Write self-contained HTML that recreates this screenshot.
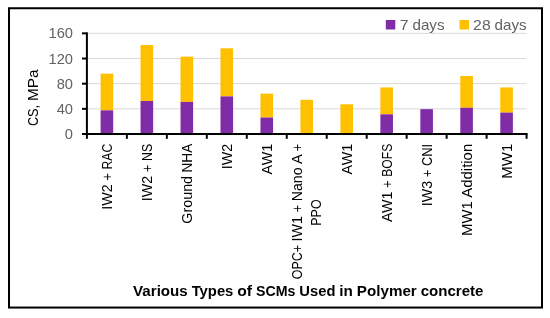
<!DOCTYPE html>
<html><head><meta charset="utf-8"><title>chart</title>
<style>
html,body{margin:0;padding:0;background:#fff;}
body{width:550px;height:318px;overflow:hidden;position:relative;font-family:"Liberation Sans",sans-serif;}
svg{position:absolute;left:0;top:0;display:block;}
text{font-family:"Liberation Sans",sans-serif;}
</style></head><body>
<svg width="550" height="318" viewBox="0 0 550 318">
<rect x="9" y="8.25" width="533" height="299.3" fill="#fff" stroke="#000" stroke-width="2"/>

<line x1="86.9" x2="526.57" y1="108.84" y2="108.84" stroke="#d9d9d9" stroke-width="1"/>
<line x1="86.9" x2="526.57" y1="83.68" y2="83.68" stroke="#d9d9d9" stroke-width="1"/>
<line x1="86.9" x2="526.57" y1="58.52" y2="58.52" stroke="#d9d9d9" stroke-width="1"/>
<line x1="86.9" x2="526.57" y1="33.36" y2="33.36" stroke="#d9d9d9" stroke-width="1"/>
<rect x="100.59" y="73.62" width="12.6" height="36.73" fill="#ffc000"/>
<rect x="100.59" y="110.35" width="12.6" height="23.65" fill="#802ca6"/>
<rect x="140.56" y="45.00" width="12.6" height="55.98" fill="#ffc000"/>
<rect x="140.56" y="100.98" width="12.6" height="33.02" fill="#802ca6"/>
<rect x="180.52" y="56.63" width="12.6" height="45.29" fill="#ffc000"/>
<rect x="180.52" y="101.92" width="12.6" height="32.08" fill="#802ca6"/>
<rect x="220.49" y="48.33" width="12.6" height="48.06" fill="#ffc000"/>
<rect x="220.49" y="96.39" width="12.6" height="37.61" fill="#802ca6"/>
<rect x="260.46" y="93.62" width="12.6" height="23.90" fill="#ffc000"/>
<rect x="260.46" y="117.52" width="12.6" height="16.48" fill="#802ca6"/>
<rect x="300.44" y="99.78" width="12.6" height="34.22" fill="#ffc000"/>
<rect x="340.41" y="104.31" width="12.6" height="29.69" fill="#ffc000"/>
<rect x="380.37" y="87.45" width="12.6" height="26.86" fill="#ffc000"/>
<rect x="380.37" y="114.31" width="12.6" height="19.69" fill="#802ca6"/>
<rect x="420.34" y="109.15" width="12.6" height="24.85" fill="#802ca6"/>
<rect x="460.31" y="76.01" width="12.6" height="31.76" fill="#ffc000"/>
<rect x="460.31" y="107.77" width="12.6" height="26.23" fill="#802ca6"/>
<rect x="500.29" y="87.45" width="12.6" height="25.16" fill="#ffc000"/>
<rect x="500.29" y="112.61" width="12.6" height="21.39" fill="#802ca6"/>
<line x1="86.9" x2="86.9" y1="32.36" y2="135.0" stroke="#000" stroke-width="2"/>
<line x1="85.9" x2="527.57" y1="134.0" y2="134.0" stroke="#000" stroke-width="2"/>
<line x1="82" x2="86.9" y1="134.00" y2="134.00" stroke="#000" stroke-width="2"/>
<line x1="82" x2="86.9" y1="108.84" y2="108.84" stroke="#000" stroke-width="2"/>
<line x1="82" x2="86.9" y1="83.68" y2="83.68" stroke="#000" stroke-width="2"/>
<line x1="82" x2="86.9" y1="58.52" y2="58.52" stroke="#000" stroke-width="2"/>
<line x1="82" x2="86.9" y1="33.36" y2="33.36" stroke="#000" stroke-width="2"/>
<line x1="86.90" x2="86.90" y1="134.0" y2="138.8" stroke="#000" stroke-width="2"/>
<line x1="126.87" x2="126.87" y1="134.0" y2="138.8" stroke="#000" stroke-width="2"/>
<line x1="166.84" x2="166.84" y1="134.0" y2="138.8" stroke="#000" stroke-width="2"/>
<line x1="206.81" x2="206.81" y1="134.0" y2="138.8" stroke="#000" stroke-width="2"/>
<line x1="246.78" x2="246.78" y1="134.0" y2="138.8" stroke="#000" stroke-width="2"/>
<line x1="286.75" x2="286.75" y1="134.0" y2="138.8" stroke="#000" stroke-width="2"/>
<line x1="326.72" x2="326.72" y1="134.0" y2="138.8" stroke="#000" stroke-width="2"/>
<line x1="366.69" x2="366.69" y1="134.0" y2="138.8" stroke="#000" stroke-width="2"/>
<line x1="406.66" x2="406.66" y1="134.0" y2="138.8" stroke="#000" stroke-width="2"/>
<line x1="446.63" x2="446.63" y1="134.0" y2="138.8" stroke="#000" stroke-width="2"/>
<line x1="486.60" x2="486.60" y1="134.0" y2="138.8" stroke="#000" stroke-width="2"/>
<line x1="526.57" x2="526.57" y1="134.0" y2="138.8" stroke="#000" stroke-width="2"/>
<text transform="translate(112.09,0) rotate(-90)" font-size="14" fill="#000"><tspan x="-209.73" y="0.00" textLength="25.55" lengthAdjust="spacingAndGlyphs">IW2</tspan> <tspan x="-180.67" y="0.00" textLength="7.72" lengthAdjust="spacingAndGlyphs">+</tspan> <tspan x="-169.45" y="0.00" textLength="25.65" lengthAdjust="spacingAndGlyphs">RAC</tspan></text>
<text transform="translate(152.06,0) rotate(-90)" font-size="14" fill="#000"><tspan x="-201.21" y="0.00" textLength="25.55" lengthAdjust="spacingAndGlyphs">IW2</tspan> <tspan x="-172.15" y="0.00" textLength="7.72" lengthAdjust="spacingAndGlyphs">+</tspan> <tspan x="-160.93" y="0.00" textLength="17.13" lengthAdjust="spacingAndGlyphs">NS</tspan></text>
<text transform="translate(192.02,0) rotate(-90)" font-size="14" fill="#000"><tspan x="-223.72" y="0.00" textLength="47.79" lengthAdjust="spacingAndGlyphs">Ground</tspan> <tspan x="-172.43" y="0.00" textLength="28.63" lengthAdjust="spacingAndGlyphs">NHA</tspan></text>
<text transform="translate(231.99,0) rotate(-90)" font-size="14" fill="#000"><tspan x="-169.35" y="0.00" textLength="25.55" lengthAdjust="spacingAndGlyphs">IW2</tspan></text>
<text transform="translate(271.96,0) rotate(-90)" font-size="14" fill="#000"><tspan x="-174.41" y="0.00" textLength="30.61" lengthAdjust="spacingAndGlyphs">AW1</tspan></text>
<text transform="translate(302.44,0) rotate(-90)" font-size="14" fill="#000"><tspan x="-279.28" y="0.00" textLength="34.25" lengthAdjust="spacingAndGlyphs">OPC+</tspan> <tspan x="-241.52" y="0.00" textLength="25.55" lengthAdjust="spacingAndGlyphs">IW1</tspan> <tspan x="-212.47" y="0.00" textLength="7.72" lengthAdjust="spacingAndGlyphs">+</tspan> <tspan x="-201.24" y="0.00" textLength="33.75" lengthAdjust="spacingAndGlyphs">Nano</tspan> <tspan x="-163.99" y="0.00" textLength="8.97" lengthAdjust="spacingAndGlyphs">A</tspan> <tspan x="-151.52" y="0.00" textLength="7.72" lengthAdjust="spacingAndGlyphs">+</tspan> <tspan x="-225.68" y="18.80" textLength="26.28" lengthAdjust="spacingAndGlyphs">PPO</tspan></text>
<text transform="translate(351.91,0) rotate(-90)" font-size="14" fill="#000"><tspan x="-174.41" y="0.00" textLength="30.61" lengthAdjust="spacingAndGlyphs">AW1</tspan></text>
<text transform="translate(391.87,0) rotate(-90)" font-size="14" fill="#000"><tspan x="-222.08" y="0.00" textLength="30.61" lengthAdjust="spacingAndGlyphs">AW1</tspan> <tspan x="-187.96" y="0.00" textLength="7.72" lengthAdjust="spacingAndGlyphs">+</tspan> <tspan x="-176.74" y="0.00" textLength="32.94" lengthAdjust="spacingAndGlyphs">BOFS</tspan></text>
<text transform="translate(431.84,0) rotate(-90)" font-size="14" fill="#000"><tspan x="-206.25" y="0.00" textLength="25.55" lengthAdjust="spacingAndGlyphs">IW3</tspan> <tspan x="-177.20" y="0.00" textLength="7.72" lengthAdjust="spacingAndGlyphs">+</tspan> <tspan x="-165.98" y="0.00" textLength="22.18" lengthAdjust="spacingAndGlyphs">CNI</tspan></text>
<text transform="translate(471.81,0) rotate(-90)" font-size="14" fill="#000"><tspan x="-236.08" y="0.00" textLength="34.90" lengthAdjust="spacingAndGlyphs">MW1</tspan> <tspan x="-197.68" y="0.00" textLength="53.88" lengthAdjust="spacingAndGlyphs">Addition</tspan></text>
<text transform="translate(511.79,0) rotate(-90)" font-size="14" fill="#000"><tspan x="-178.70" y="0.00" textLength="34.90" lengthAdjust="spacingAndGlyphs">MW1</tspan></text>
<text transform="translate(37.50,0) rotate(-90)" font-size="15.2" fill="#000"><tspan x="-126.10" y="0.00" textLength="21.18" lengthAdjust="spacingAndGlyphs">CS,</tspan> <tspan x="-101.07" y="0.00" textLength="31.55" lengthAdjust="spacingAndGlyphs">MPa</tspan></text>
<text font-size="15.0" font-weight="bold" fill="#000"><tspan x="133.10" y="295.70" textLength="54.63" lengthAdjust="spacingAndGlyphs">Various</tspan> <tspan x="191.65" y="295.70" textLength="41.73" lengthAdjust="spacingAndGlyphs">Types</tspan> <tspan x="237.30" y="295.70" textLength="14.79" lengthAdjust="spacingAndGlyphs">of</tspan> <tspan x="256.01" y="295.70" textLength="39.43" lengthAdjust="spacingAndGlyphs">SCMs</tspan> <tspan x="299.36" y="295.70" textLength="36.06" lengthAdjust="spacingAndGlyphs">Used</tspan> <tspan x="339.34" y="295.70" textLength="13.56" lengthAdjust="spacingAndGlyphs">in</tspan> <tspan x="356.82" y="295.70" textLength="59.98" lengthAdjust="spacingAndGlyphs">Polymer</tspan> <tspan x="420.72" y="295.70" textLength="62.74" lengthAdjust="spacingAndGlyphs">concrete</tspan></text>
<text font-size="14.6" fill="#626262"><tspan x="399.80" y="29.70" textLength="8.78" lengthAdjust="spacingAndGlyphs">7</tspan> <tspan x="412.50" y="29.70" textLength="32.03" lengthAdjust="spacingAndGlyphs">days</tspan></text>
<text font-size="14.6" fill="#626262"><tspan x="473.10" y="29.70" textLength="17.57" lengthAdjust="spacingAndGlyphs">28</tspan> <tspan x="494.58" y="29.70" textLength="32.03" lengthAdjust="spacingAndGlyphs">days</tspan></text>
<text font-size="14.8" fill="#626262"><tspan x="64.84" y="139.10" textLength="8.16" lengthAdjust="spacingAndGlyphs">0</tspan></text>
<text font-size="14.8" fill="#626262"><tspan x="56.68" y="113.94" textLength="16.32" lengthAdjust="spacingAndGlyphs">40</tspan></text>
<text font-size="14.8" fill="#626262"><tspan x="56.68" y="88.78" textLength="16.32" lengthAdjust="spacingAndGlyphs">80</tspan></text>
<text font-size="14.8" fill="#626262"><tspan x="48.52" y="63.62" textLength="24.48" lengthAdjust="spacingAndGlyphs">120</tspan></text>
<text font-size="14.8" fill="#626262"><tspan x="48.52" y="38.46" textLength="24.48" lengthAdjust="spacingAndGlyphs">160</tspan></text>
<rect x="385.8" y="20" width="9.5" height="9.5" fill="#802ca6"/>
<rect x="459.5" y="20" width="9.5" height="9.5" fill="#ffc000"/>
</svg></body></html>
